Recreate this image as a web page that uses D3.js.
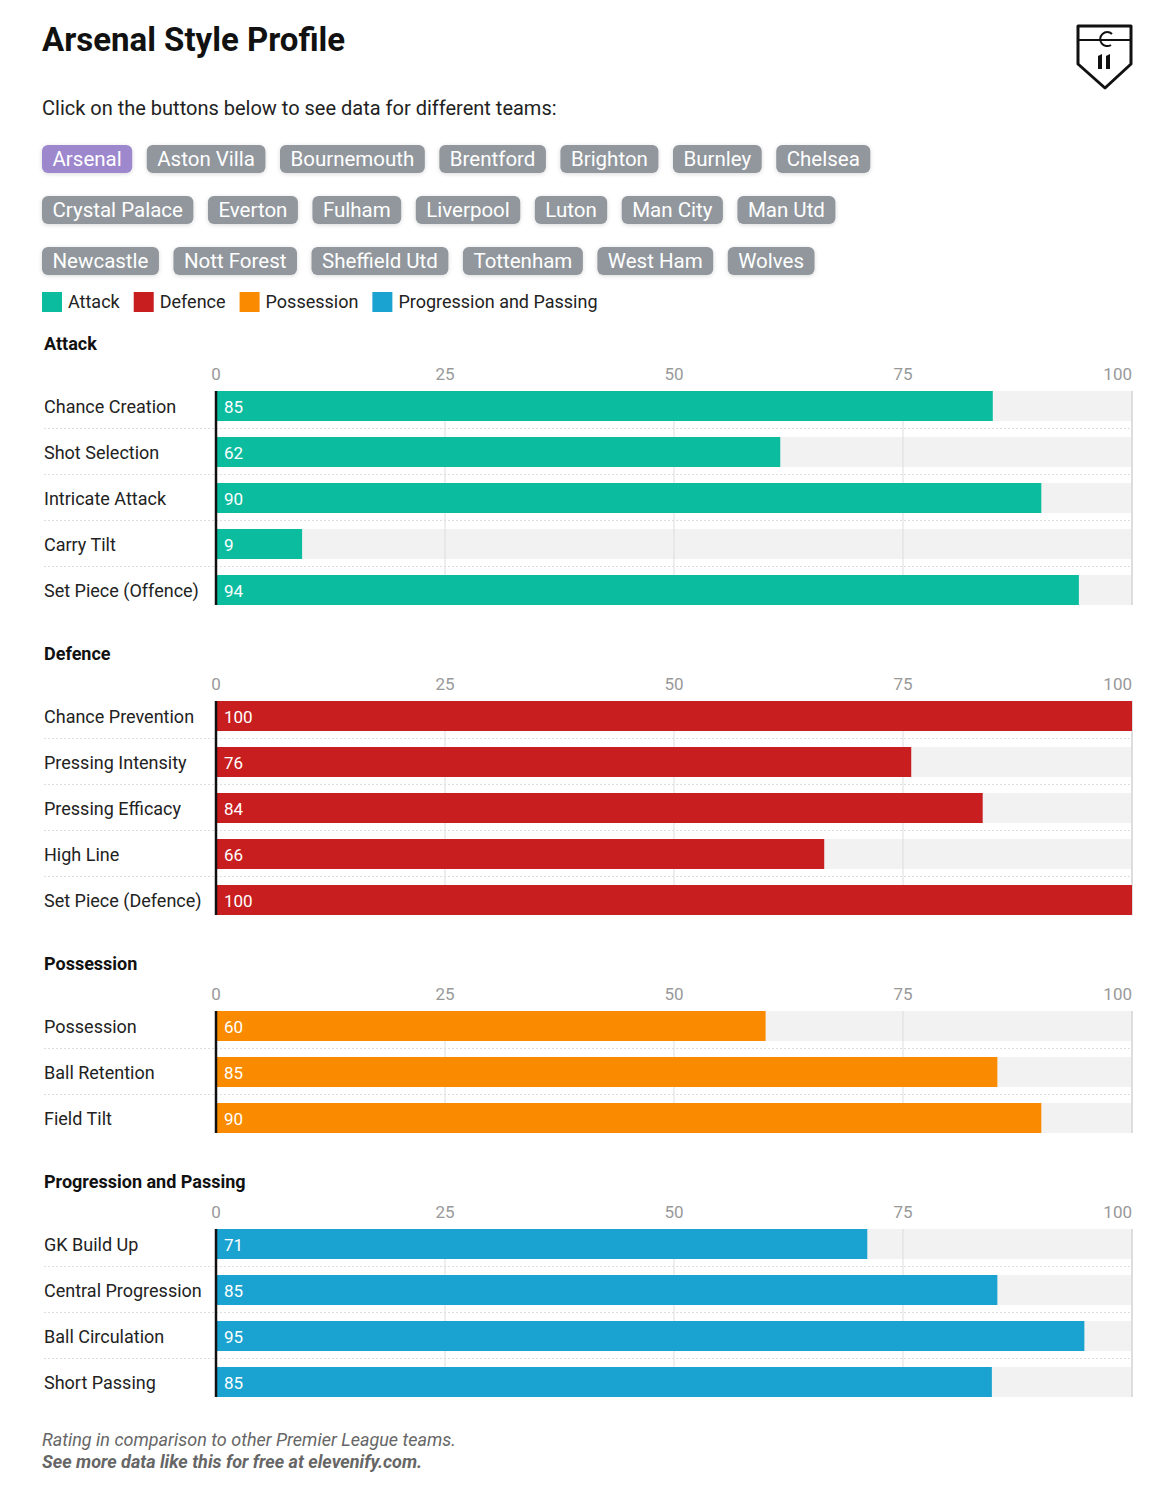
<!DOCTYPE html>
<html><head><meta charset="utf-8">
<script src="https://cdn.jsdelivr.net/npm/d3@7"></script>
<style>
body{margin:0;background:#fff;font-family:Roboto,"Noto Sans",sans-serif;}
svg{display:block}
</style></head>
<body>
<svg id="c" width="1170" height="1500"></svg>
<script>
const teams = ["Arsenal","Aston Villa","Bournemouth","Brentford","Brighton","Burnley","Chelsea","Crystal Palace","Everton","Fulham","Liverpool","Luton","Man City","Man Utd","Newcastle","Nott Forest","Sheffield Utd","Tottenham","West Ham","Wolves"];
const selectedTeam = "Arsenal";
const sections = ["Attack","Defence","Possession","Progression and Passing"];
const sectionColors = ["#0bbc9f","#c81e1f","#fa8b00","#1aa3d0"];
const attackLabels = ["Chance Creation","Shot Selection","Intricate Attack","Carry Tilt","Set Piece (Offence)"];
const attackValues = [84.8, 61.6, 90.1, 9.4, 94.2];
const defenceLabels = ["Chance Prevention","Pressing Intensity","Pressing Efficacy","High Line","Set Piece (Defence)"];
const defenceValues = [100, 75.9, 83.7, 66.4, 100];
const possessionLabels = ["Possession","Ball Retention","Field Tilt"];
const possessionValues = [60.0, 85.3, 90.1];
const progressionLabels = ["GK Build Up","Central Progression","Ball Circulation","Short Passing"];
const progressionValues = [71.1, 85.3, 94.8, 84.7];
const tickValues = [0,25,50,75,100];

const sectionData = [
  {name:sections[0], labels:attackLabels, values:attackValues, color:sectionColors[0]},
  {name:sections[1], labels:defenceLabels, values:defenceValues, color:sectionColors[1]},
  {name:sections[2], labels:possessionLabels, values:possessionValues, color:sectionColors[2]},
  {name:sections[3], labels:progressionLabels, values:progressionValues, color:sectionColors[3]}
];

const svg = d3.select("#c");
const defs = svg.append("defs");
const f = defs.append("filter").attr("id","sh").attr("x","-20%").attr("y","-40%").attr("width","140%").attr("height","180%");
f.append("feDropShadow").attr("dx",0).attr("dy",1).attr("stdDeviation",2).attr("flood-color","#000").attr("flood-opacity",0.15);

// Title
svg.append("text").attr("x",42).attr("y",51).attr("font-size",33).attr("font-weight",700).attr("fill","#111").text("Arsenal Style Profile");
svg.append("text").attr("x",42).attr("y",115).attr("font-size",20).attr("fill","#222").text("Click on the buttons below to see data for different teams:");

// Logo
const logo = svg.append("g").attr("fill","none").attr("stroke","#111").attr("stroke-width",3).attr("stroke-linejoin","round");
logo.append("path").attr("d","M1078,26 H1131 V64 L1105,88 L1078,64 Z");
logo.append("line").attr("x1",1078).attr("x2",1131).attr("y1",40).attr("y2",40).attr("stroke-width",2);
logo.append("path").attr("d","M1112,34 A7,7 0 1 0 1111,45").attr("stroke-width",2);
svg.append("path").attr("fill","#111").attr("d","M1098,56 L1102,54 V69 H1098 Z M1106,56 L1110,54 V69 H1106 Z");

// Buttons
const btnG = svg.append("g");
let bx = 42, by = 159;
const maxX = 942;
teams.forEach(t => {
  const g = btnG.append("g");
  const tx = g.append("text").attr("font-size",20.5).attr("fill","#fff").text(t);
  const w = tx.node().getComputedTextLength() + 21;
  if (bx + w > maxX) { bx = 42; by += 51; }
  g.insert("rect","text").attr("x",bx).attr("y",by-14).attr("width",w).attr("height",28).attr("rx",6)
    .attr("fill", t===selectedTeam ? "#9d87cd" : "#91979d").attr("filter","url(#sh)");
  tx.attr("x",bx+w/2).attr("y",by+7).attr("text-anchor","middle");
  bx += w + 14.5;
});

// Legend
const leg = svg.append("g");
let lx = 42;
sections.forEach((s,i) => {
  leg.append("rect").attr("x",lx).attr("y",292).attr("width",20).attr("height",20).attr("fill",sectionColors[i]);
  const t = leg.append("text").attr("x",lx+26).attr("y",308).attr("font-size",18).attr("fill","#222").text(s);
  lx += 26 + t.node().getComputedTextLength() + 14;
});

// Charts
const x = d3.scaleLinear().domain([0,100]).range([216,1132]);
const rowStep = 46, barH = 30;
let ty = 343;
sectionData.forEach(sec => {
  const g = svg.append("g");
  g.append("text").attr("x",44).attr("y",ty+7).attr("font-size",18).attr("font-weight",700).attr("fill","#111").text(sec.name);
  const first = ty + 63;
  const y = d3.scaleBand().domain(sec.labels).range([first - rowStep/2, first - rowStep/2 + rowStep*sec.labels.length]).paddingInner(16/46).paddingOuter(8/46);
  g.selectAll(".tk").data(tickValues).join("text")
    .attr("x",d=>x(d)).attr("y",ty+37).attr("font-size",17).attr("fill","#999")
    .attr("text-anchor",d=> d===100 ? "end" : "middle").text(d=>d);
  g.selectAll(".sep").data(sec.labels.slice(0,-1)).join("line")
    .attr("x1",44).attr("x2",1132)
    .attr("y1",d=>y(d)+barH+7.5).attr("y2",d=>y(d)+barH+7.5)
    .attr("stroke","#ddd").attr("stroke-width",1).attr("stroke-dasharray","2,2");
  g.selectAll(".bg").data(sec.labels).join("rect")
    .attr("x",x(0)).attr("width",x(100)-x(0)).attr("y",d=>y(d)).attr("height",y.bandwidth()).attr("fill","#f2f2f2");
  const top = y(sec.labels[0]), bot = y(sec.labels[sec.labels.length-1]) + y.bandwidth();
  g.selectAll(".gl").data([25,50,75]).join("line")
    .attr("x1",d=>x(d)).attr("x2",d=>x(d)).attr("y1",top).attr("y2",bot).attr("stroke","#ddd").attr("stroke-width",1);
  g.append("line").attr("x1",x(100)).attr("x2",x(100)).attr("y1",top).attr("y2",bot).attr("stroke","#ddd").attr("stroke-width",2);
  const rows = sec.labels.map((l,i)=>({l, v:sec.values[i]}));
  g.selectAll(".bar").data(rows).join("rect")
    .attr("x",x(0)).attr("y",d=>y(d.l)).attr("width",d=>x(d.v)-x(0)).attr("height",y.bandwidth()).attr("fill",sec.color);
  g.selectAll(".val").data(rows).join("text")
    .attr("x",x(0)+8).attr("y",d=>y(d.l)+y.bandwidth()/2+7).attr("font-size",17).attr("fill","#fff").text(d=>Math.round(d.v));
  g.selectAll(".lab").data(rows).join("text")
    .attr("x",44).attr("y",d=>y(d.l)+y.bandwidth()/2+7).attr("font-size",18).attr("fill","#222").text(d=>d.l);
  g.append("line").attr("x1",x(0)).attr("x2",x(0)).attr("y1",top).attr("y2",bot).attr("stroke","#111").attr("stroke-width",2.5);
  ty = first + rowStep*(sec.labels.length-1) + 63;
});

// Footer
svg.append("text").attr("x",42).attr("y",1446).attr("font-size",18).attr("font-style","italic").attr("fill","#666").text("Rating in comparison to other Premier League teams.");
svg.append("text").attr("x",42).attr("y",1468).attr("font-size",18).attr("font-style","italic").attr("font-weight",700).attr("fill","#666").text("See more data like this for free at elevenify.com.");
</script>
</body></html>
